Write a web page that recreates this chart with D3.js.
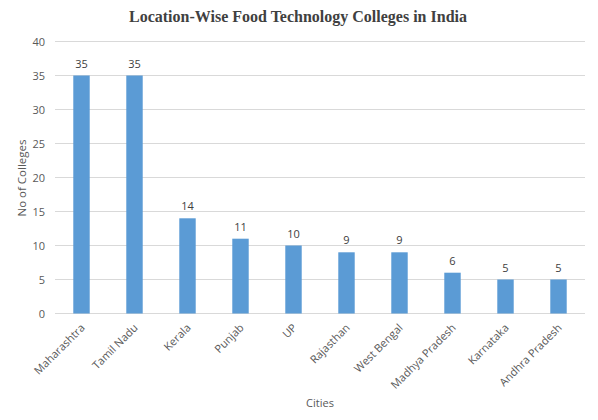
<!DOCTYPE html>
<html>
<head>
<meta charset="utf-8">
<script src="https://cdn.jsdelivr.net/npm/d3@7"></script>
<style>
  body { margin: 0; background: #fff; }
  svg text { font-family: "Open Sans", "Liberation Sans", sans-serif; }
</style>
</head>
<body>
<svg id="chart" width="598" height="420"></svg>
<script>
const cities = ['Maharashtra', 'Tamil Nadu', 'Kerala', 'Punjab', 'UP', 'Rajasthan',
                'West Bengal', 'Madhya Pradesh', 'Karnataka', 'Andhra Pradesh'];
const colleges = [35, 35, 14, 11, 10, 9, 9, 6, 5, 5];
const yTicks = [0, 5, 10, 15, 20, 25, 30, 35, 40];

const svg = d3.select('#chart');
const margin = { top: 41.5, right: 13, bottom: 106.5, left: 55 };
const width = 598 - margin.left - margin.right;
const height = 420 - margin.top - margin.bottom;

const x = d3.scaleBand()
    .domain(cities)
    .range([margin.left, margin.left + width])
    .paddingInner(0.69)
    .paddingOuter(0.345);
const y = d3.scaleLinear()
    .domain([0, 40])
    .range([margin.top + height, margin.top]);

// title
svg.append('text')
    .attr('x', 298)
    .attr('y', 22)
    .attr('text-anchor', 'middle')
    .style('font-family', '"Liberation Serif", serif')
    .style('font-weight', 'bold')
    .style('font-size', '16px')
    .style('fill', '#404040')
    .text('Location-Wise Food Technology Colleges in India');

// gridlines
svg.append('g')
    .selectAll('line')
    .data(yTicks)
    .enter()
    .append('line')
    .attr('x1', margin.left)
    .attr('x2', margin.left + width)
    .attr('y1', d => y(d))
    .attr('y2', d => y(d))
    .attr('stroke', '#d9d9d9')
    .attr('stroke-width', 1);

// y axis labels
const yAxis = d3.axisLeft(y).tickValues(yTicks).tickSize(0).tickPadding(10);
const yg = svg.append('g')
    .attr('transform', `translate(${margin.left},0)`)
    .call(yAxis);
yg.select('.domain').remove();
yg.selectAll('text')
    .style('font-size', '11px')
    .style('fill', '#595959');

// bars
svg.append('g')
    .selectAll('rect')
    .data(cities)
    .enter()
    .append('rect')
    .attr('x', d => x(d))
    .attr('y', (d, i) => y(colleges[i]))
    .attr('width', x.bandwidth())
    .attr('height', (d, i) => y(0) - y(colleges[i]))
    .attr('fill', '#5b9bd5');

// value labels
svg.append('g')
    .selectAll('text')
    .data(cities)
    .enter()
    .append('text')
    .attr('x', d => x(d) + x.bandwidth() / 2)
    .attr('y', (d, i) => y(colleges[i]) - 8)
    .attr('text-anchor', 'middle')
    .style('font-size', '11px')
    .style('fill', '#404040')
    .text((d, i) => colleges[i]);

// x axis labels
const xAxis = d3.axisBottom(x).tickSize(0);
const xg = svg.append('g')
    .attr('transform', `translate(0,${y(0)})`)
    .call(xAxis);
xg.select('.domain').remove();
xg.selectAll('text')
    .style('font-size', '11px')
    .style('fill', '#595959')
    .attr('text-anchor', 'end')
    .attr('x', 0)
    .attr('y', 0)
    .attr('dx', null)
    .attr('dy', null)
    .attr('transform', 'translate(4,15) rotate(-45)');

// axis titles
svg.append('text')
    .attr('x', 320)
    .attr('y', 407)
    .attr('text-anchor', 'middle')
    .style('font-size', '11px')
    .style('fill', '#595959')
    .text('Cities');

svg.append('text')
    .attr('transform', 'translate(26,178) rotate(-90)')
    .attr('text-anchor', 'middle')
    .style('font-size', '11.5px')
    .style('fill', '#595959')
    .text('No of Colleges');
</script>
</body>
</html>
